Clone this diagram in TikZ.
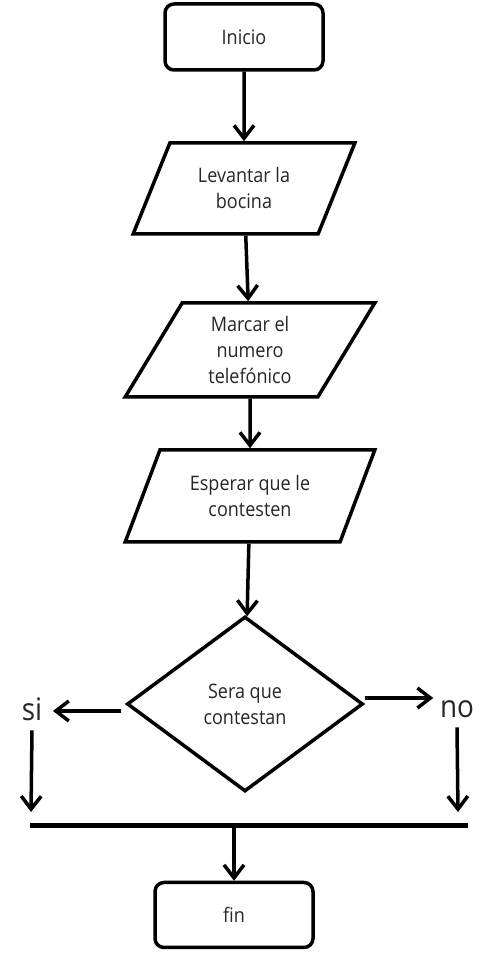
\documentclass[tikz,border=0pt]{standalone}
\usepackage{fontspec}
\setmainfont[FakeStretch=0.9]{Open Sans}
\usetikzlibrary{shapes.geometric,arrows.meta}

\begin{document}
\begin{tikzpicture}[x=1pt,y=1pt,line width=3.5pt,
	txt/.style={font=\fontsize{20}{26}\selectfont,align=center,text=black!85},
	rbox/.style={draw,rounded corners=9pt,minimum width=158pt,minimum height=66pt,txt},
	io/.style={draw,trapezium,trapezium left angle=63,trapezium right angle=117,trapezium stretches=true,txt},
	cond/.style={draw,diamond,minimum width=236pt,minimum height=175pt,inner sep=0pt,txt},
	lbl/.style={font=\fontsize{31}{31}\selectfont,text=black!85,inner sep=0pt},
	flow/.style={-{Straight Barb[length=13pt,width=20pt]}}]
		%%Location
		\useasboundingbox (0,0) rectangle (498,953);
		%%Boxes
		\node (inicio) at (244,916) [rbox] {Inicio};
		\node (levantar) at (244,764.5) [io,minimum width=222pt,minimum height=91pt] {Levantar la\\bocina};
		\node (marcar) at (250,603) [io,minimum width=250pt,minimum height=94pt] {Marcar el\\numero\\telefónico};
		\node (esperar) at (250,457) [io,minimum width=250pt,minimum height=92pt] {Esperar que le\\contesten};
		\node (sera) at (245,249) [cond] {Sera que\\contestan};
		\node (si) at (32,244) [lbl] {si};
		\node (no) at (457,244) [lbl] {no};
		\node (fin) at (234,38) [rbox,minimum height=65pt] {fin};
		%%Bar
		\coordinate (barL) at (30,127);
		\coordinate (barR) at (468,127);
		\coordinate (siEnd) at (31,141);
		\coordinate (noEnd) at (458,141);
		\draw[line width=5pt] (barL) -- (barR);
		%%Arrows
		\draw[flow] (inicio) -- (levantar);
		\draw[flow] (levantar) -- (marcar);
		\draw[flow] (marcar) -- (esperar);
		\draw[flow] (esperar) -- (sera);
		\draw[flow] ([xshift=-4pt,yshift=-7pt]sera.west) -- ([xshift=9pt,yshift=-7pt]sera.west -| si.east);
		\draw[flow] ([yshift=6pt]sera.east) -- ([xshift=-5pt,yshift=6pt]sera.east -| no.west);
		\draw[flow] (si.south) ++(0,-8) -- (siEnd);
		\draw[flow] (no.south) ++(0,-8) -- (noEnd);
		\draw[flow] (fin.north |- barL) -- (fin.north);
\end{tikzpicture}
\end{document}
